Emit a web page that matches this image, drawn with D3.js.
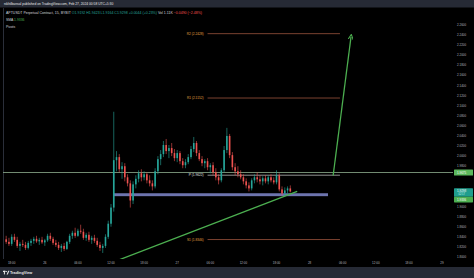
<!DOCTYPE html>
<html><head><meta charset="utf-8">
<script src="https://cdn.jsdelivr.net/npm/d3@7"></script>
<style>
html,body{margin:0;padding:0;background:#000;overflow:hidden;}
svg{display:block;font-family:"Liberation Sans",Arial,sans-serif;}
</style></head><body>
<svg id="c" width="474" height="278"></svg>
<script>
// ---------- data ----------
const headerText = "nikhilbansal published on TradingView.com, Feb 27, 2024 00:58 UTC+5:30";
const symbolText = "APTUSDT Perpetual Contract, 15, BYBIT";
const ohlcText = "O1.9192 H1.9423 L1.9164 C1.9298 +0.0044 (+0.23%)";
const volText = "Vol 1.11K";
const changeText = "\u22120.0490 (\u22122.48%)";
const smaLabel = "SMA";
const smaValue = 1.9336;
const pivotsLabel = "Pivots";

const candleStart = "2024-02-25T17:00:00Z";
const candleStepMinutes = 30;
// [open, high, low, close]
const candles = [
 [1.835,1.842,1.826,1.830],[1.830,1.838,1.822,1.826],[1.826,1.845,1.822,1.840],[1.840,1.846,1.830,1.834],
 [1.834,1.840,1.818,1.822],[1.822,1.830,1.812,1.826],[1.826,1.834,1.820,1.824],[1.824,1.830,1.814,1.818],
 [1.818,1.832,1.815,1.828],[1.828,1.836,1.822,1.832],[1.832,1.840,1.826,1.836],[1.836,1.842,1.828,1.831],
 [1.831,1.838,1.824,1.834],[1.834,1.840,1.826,1.829],[1.829,1.836,1.822,1.833],[1.833,1.846,1.830,1.842],
 [1.842,1.848,1.832,1.836],[1.836,1.840,1.824,1.828],[1.828,1.834,1.820,1.824],[1.824,1.830,1.814,1.818],
 [1.818,1.826,1.810,1.822],[1.822,1.828,1.812,1.816],[1.816,1.832,1.814,1.830],[1.830,1.846,1.826,1.842],
 [1.842,1.852,1.836,1.848],[1.848,1.858,1.838,1.842],[1.842,1.856,1.840,1.852],[1.852,1.864,1.846,1.850],
 [1.850,1.856,1.834,1.838],[1.838,1.848,1.832,1.844],[1.844,1.850,1.830,1.834],[1.834,1.842,1.826,1.838],
 [1.838,1.844,1.828,1.832],[1.832,1.838,1.820,1.824],[1.824,1.830,1.812,1.818],[1.818,1.826,1.808,1.822],
 [1.822,1.845,1.818,1.840],[1.840,1.872,1.836,1.866],[1.866,1.905,1.860,1.898],[1.898,2.088,1.890,1.992],
 [1.992,2.010,1.970,1.998],[1.998,2.004,1.968,1.974],[1.974,1.988,1.955,1.980],[1.980,1.986,1.950,1.958],
 [1.958,1.964,1.940,1.946],[1.946,1.952,1.898,1.912],[1.912,1.950,1.905,1.944],[1.944,1.962,1.936,1.955],
 [1.955,1.972,1.948,1.966],[1.966,1.974,1.950,1.958],[1.958,1.970,1.952,1.964],[1.964,1.968,1.946,1.952],
 [1.952,1.962,1.940,1.946],[1.946,1.952,1.932,1.940],[1.940,1.976,1.936,1.970],[1.970,2.000,1.964,1.994],
 [1.994,2.012,1.982,2.004],[2.004,2.030,1.998,2.022],[2.022,2.034,2.004,2.010],[2.010,2.022,1.996,2.016],
 [2.016,2.026,2.000,2.006],[2.006,2.014,1.990,1.996],[1.996,2.012,1.988,2.006],[2.006,2.010,1.984,1.990],
 [1.990,1.996,1.976,1.982],[1.982,1.994,1.976,1.988],[1.988,2.004,1.984,1.998],[1.998,2.020,1.994,2.014],
 [2.014,2.038,2.008,2.026],[2.026,2.030,2.000,2.006],[2.006,2.012,1.990,1.994],[1.994,2.000,1.980,1.986],
 [1.986,1.994,1.976,1.990],[1.990,1.996,1.972,1.978],[1.978,1.986,1.966,1.982],[1.982,1.988,1.962,1.968],
 [1.968,1.976,1.952,1.958],[1.958,1.964,1.944,1.952],[1.952,1.976,1.948,1.972],[1.972,2.020,1.968,2.012],
 [2.012,2.056,2.006,2.040],[2.040,2.044,1.996,2.002],[2.002,2.008,1.972,1.978],[1.978,1.986,1.962,1.970],
 [1.970,1.980,1.958,1.964],[1.964,1.972,1.954,1.958],[1.958,1.964,1.944,1.950],[1.950,1.956,1.936,1.942],
 [1.942,1.948,1.930,1.936],[1.936,1.956,1.932,1.952],[1.952,1.964,1.946,1.958],[1.958,1.968,1.948,1.954],
 [1.954,1.962,1.944,1.950],[1.950,1.960,1.942,1.956],[1.956,1.962,1.946,1.950],[1.950,1.962,1.944,1.958],
 [1.958,1.964,1.948,1.952],[1.952,1.958,1.944,1.948],[1.948,1.972,1.944,1.962],[1.962,1.966,1.930,1.934],
 [1.934,1.940,1.922,1.926],[1.926,1.938,1.920,1.932],[1.932,1.940,1.926,1.936],[1.936,1.942,1.928,1.930]
];

const yTicks = [1.80,1.82,1.84,1.86,1.88,1.90,1.92,1.94,1.96,1.98,2.00,2.02,2.04,2.06,2.08,2.10,2.12,2.14,2.16,2.18,2.20,2.22,2.24,2.26];
const xDomain = ["2024-02-25T16:25:24Z", "2024-02-29T01:59:24Z"];
const yDomain = [1.798, 2.2937];

const pivotNames = ["R2","R1","P","S1"];
const pivotValues = [2.2428, 2.1152, 1.9622, 1.8346];
const pivotSpan = ["2024-02-27T05:30:00Z", "2024-02-28T05:30:00Z"];

const hLineValue = 1.9675;
const zoneSpan = ["2024-02-26T12:22:00Z", "2024-02-28T03:20:00Z"];
const zonePrices = [1.9206, 1.9264];
const trendTimes = ["2024-02-26T13:30:00Z", "2024-02-27T21:45:00Z"];
const trendPrices = [1.7945, 1.9303];
const arrowTimes = ["2024-02-28T04:16:00Z", "2024-02-28T07:30:00Z"];
const arrowPrices = [1.9616, 2.2362];

const lastPrice = 1.9298;
const countdown = "02:17";
const footerText = "TradingView";

// ---------- layout ----------
const W = 474, H = 278;
const plot = {l: 3, r: 453, t: 8, b: 259};
const svg = d3.select("#c");
const x = d3.scaleUtc().domain(xDomain.map(d => new Date(d))).range([3, 453]);
const y = d3.scaleLinear().domain(yDomain).range([258, 8]);

svg.append("rect").attr("width", W).attr("height", H).attr("fill", "#000");

const defs = svg.append("defs");
defs.append("clipPath").attr("id","pc").append("rect")
  .attr("x", plot.l).attr("y", plot.t).attr("width", plot.r - plot.l).attr("height", plot.b - plot.t);
defs.append("marker").attr("id","ah").attr("viewBox","0 0 10 10").attr("refX",5).attr("refY",5)
  .attr("markerWidth",4).attr("markerHeight",4).attr("orient","auto-start-reverse")
  .append("path").attr("d","M0,0 L10,5 L0,10").attr("fill","none").attr("stroke","#4caf50").attr("stroke-width",2);

svg.append("line").attr("x1",3.5).attr("x2",3.5).attr("y1",plot.t).attr("y2",plot.b).attr("stroke","#2a2e39").attr("stroke-width",1);

const g = svg.append("g").attr("clip-path","url(#pc)");

// horizontal line
g.append("line").attr("x1", plot.l).attr("x2", plot.r)
  .attr("y1", y(hLineValue)).attr("y2", y(hLineValue))
  .attr("stroke", "#8fae8f").attr("stroke-width", 0.8);

// pivots
const px0 = x(new Date(pivotSpan[0])), px1 = x(new Date(pivotSpan[1]));
pivotNames.forEach((n, i) => {
  const v = pivotValues[i];
  const isP = n === "P";
  g.append("line").attr("x1", px0).attr("x2", px1).attr("y1", y(v)).attr("y2", y(v))
    .attr("stroke", isP ? "#b8b8b8" : "#7a4230").attr("stroke-width", isP ? 0.8 : 1);
  g.append("text").attr("x", px0 - 4).attr("y", y(v)).attr("dy", "0.35em")
    .attr("text-anchor", "end").attr("font-size", 3.2)
    .attr("fill", isP ? "#e0e0e0" : "#e0a040")
    .text(`${n} (${v.toFixed(4)})`);
});

// zone band
g.append("rect")
  .attr("x", x(new Date(zoneSpan[0]))).attr("width", x(new Date(zoneSpan[1])) - x(new Date(zoneSpan[0])))
  .attr("y", y(zonePrices[1])).attr("height", y(zonePrices[0]) - y(zonePrices[1]))
  .attr("fill", "#8088cc").attr("opacity", 0.85);

// candles
const t0 = new Date(candleStart).getTime();
const step = candleStepMinutes * 60e3;
const bw = 1.6;
const cg = g.append("g");
candles.forEach((c, i) => {
  const [o, h, l, cl] = c;
  const cx = x(new Date(t0 + i * step));
  const col = cl >= o ? "#26a69a" : "#ef5350";
  cg.append("line").attr("x1", cx).attr("x2", cx).attr("y1", y(h)).attr("y2", y(l))
    .attr("stroke", col).attr("stroke-width", 0.6);
  const top = y(Math.max(o, cl)), bot = y(Math.min(o, cl));
  cg.append("rect").attr("x", cx - bw/2).attr("width", bw)
    .attr("y", top).attr("height", Math.max(0.6, bot - top)).attr("fill", col);
});

// trend line
g.append("line")
  .attr("x1", x(new Date(trendTimes[0]))).attr("y1", y(trendPrices[0]))
  .attr("x2", x(new Date(trendTimes[1]))).attr("y2", y(trendPrices[1]))
  .attr("stroke", "#4caf50").attr("stroke-width", 1.3);

// arrow
g.append("line")
  .attr("x1", x(new Date(arrowTimes[0]))).attr("y1", y(arrowPrices[0]))
  .attr("x2", x(new Date(arrowTimes[1]))).attr("y2", y(arrowPrices[1]))
  .attr("stroke", "#4caf50").attr("stroke-width", 1.3).attr("marker-end", "url(#ah)");

// ---------- right axis ----------
const lpY = y(lastPrice);
const ax = svg.append("g");
const boxX = 454, boxW = 19;
ax.append("rect").attr("x", boxX).attr("y", y(hLineValue) - 3).attr("width", boxW).attr("height", 6).attr("fill", "#5cb85c").attr("rx", 0.6);
ax.append("text").attr("x", boxX + 3).attr("y", y(hLineValue)).attr("dy","0.35em").attr("font-size", 3).attr("fill", "#fff").text(hLineValue.toFixed(4));
ax.append("rect").attr("x", boxX).attr("y", lpY - 3.3).attr("width", boxW).attr("height", 8.6).attr("fill", "#1f9e8e").attr("rx", 0.6);
ax.append("text").attr("x", boxX + 3).attr("y", lpY - 0.6).attr("dy","0.35em").attr("font-size", 3).attr("fill", "#fff").text(lastPrice.toFixed(4));
ax.append("text").attr("x", boxX + 4.5).attr("y", lpY + 2.9).attr("dy","0.35em").attr("font-size", 2.6).attr("fill", "#cfeee9").text(countdown);
ax.append("rect").attr("x", boxX).attr("y", lpY + 5.3).attr("width", boxW).attr("height", 5.6).attr("fill", "#4caf50").attr("rx", 0.6);
ax.append("text").attr("x", boxX + 3).attr("y", lpY + 8.1).attr("dy","0.35em").attr("font-size", 3).attr("fill", "#fff").text(smaValue.toFixed(4));

const occupied = [[y(hLineValue) - 3, y(hLineValue) + 3], [lpY - 3.3, lpY + 10.9]];
yTicks.forEach(v => {
  const yy = y(v);
  if (occupied.some(([a, b]) => yy > a - 2.5 && yy < b + 2.5)) return;
  ax.append("text").attr("x", 457).attr("y", yy).attr("dy", "0.35em")
    .attr("font-size", 3).attr("fill", "#b2b5be").text(v.toFixed(4));
});

// ---------- bottom axis ----------
const xt = d3.utcHour.every(6).range(x.domain()[0], x.domain()[1]);
const fmtH = d3.utcFormat("%H:%M"), fmtD = d3.utcFormat("%-d");
xt.forEach(d => {
  const xx = x(d);
  if (xx < 5 || xx > 450) return;
  ax.append("text").attr("x", xx).attr("y", 263).attr("dy", "0.35em").attr("text-anchor", "middle")
    .attr("font-size", 3).attr("fill", "#b2b5be")
    .text(d.getUTCHours() === 0 ? fmtD(d) : fmtH(d));
});

// ---------- header ----------
svg.append("rect").attr("x", 0).attr("y", 0).attr("width", W).attr("height", 7.5).attr("fill", "#262a35");
svg.append("text").attr("x", 4).attr("y", 3.9).attr("dy", "0.35em").attr("font-size", 3.3)
  .attr("fill", "#e8e8e8").text(headerText);

const lg = svg.append("text").attr("x", 6).attr("y", 13).attr("dy", "0.35em").attr("font-size", 3.4)
  .attr("textLength", 196).attr("lengthAdjust", "spacingAndGlyphs");
lg.append("tspan").attr("fill", "#d1d4dc").text(symbolText + " ");
lg.append("tspan").attr("fill", "#26a69a").text(ohlcText + " ");
lg.append("tspan").attr("fill", "#d1d4dc").text(volText + " ");
lg.append("tspan").attr("fill", "#ef5350").text(changeText);

const lg2 = svg.append("text").attr("x", 6).attr("y", 20).attr("dy", "0.35em").attr("font-size", 3.4);
lg2.append("tspan").attr("fill", "#d1d4dc").text(smaLabel + " ");
lg2.append("tspan").attr("fill", "#4caf50").text(smaValue.toFixed(4));
svg.append("text").attr("x", 6).attr("y", 27).attr("dy", "0.35em").attr("font-size", 3.4).attr("fill", "#d1d4dc").text(pivotsLabel);

// ---------- footer ----------
svg.append("rect").attr("x", 0).attr("y", 267).attr("width", W).attr("height", 11).attr("fill", "#262a35");
const lgo = svg.append("g").attr("transform", "translate(3,270.8)");
lgo.append("rect").attr("x", 0).attr("y", 0).attr("width", 2.6).attr("height", 1.2).attr("fill", "#e8e8e8");
lgo.append("rect").attr("x", 0.9).attr("y", 0).attr("width", 1.0).attr("height", 3.6).attr("fill", "#e8e8e8");
lgo.append("circle").attr("cx", 3.4).attr("cy", 0.7).attr("r", 0.6).attr("fill", "#e8e8e8");
lgo.append("path").attr("d", "M3.6,3.6 L5.2,0 L6.4,0 L4.8,3.6 Z").attr("fill", "#e8e8e8");
svg.append("text").attr("x", 10).attr("y", 272.6).attr("dy", "0.35em").attr("font-size", 3.8)
  .attr("font-weight", "bold").attr("fill", "#e8e8e8").text(footerText);
</script>
</body></html>
